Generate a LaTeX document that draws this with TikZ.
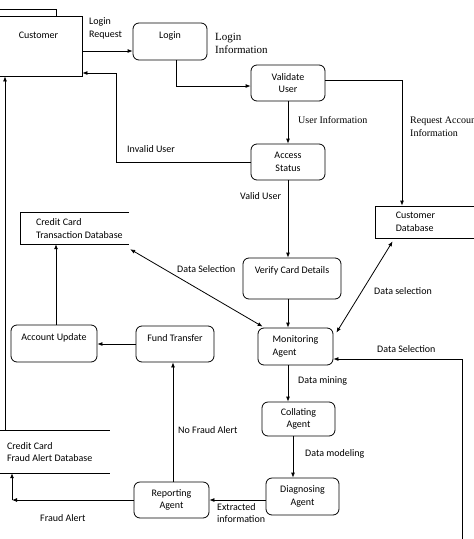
\documentclass[tikz,border=0pt]{standalone}
\usepackage{fontspec}
\setmainfont{Carlito}
\newfontfamily\tnr{Liberation Serif}
\usetikzlibrary{arrows.meta}
\begin{document}
\begin{tikzpicture}[x=1pt,y=-1pt,
  every node/.style={font=\fontsize{10}{12.5}\selectfont},
  proc/.style={draw, rounded corners=6pt, line width=0.8pt, align=center, inner sep=2pt},
  ent/.style={draw, line width=0.8pt},
  store/.style={inner sep=0pt},
  lab/.style={anchor=west, inner sep=0pt, align=left},
  serif/.style={font=\tnr\fontsize{10}{13}\selectfont},
  serifbig/.style={font=\tnr\fontsize{11}{13}\selectfont},
  arr/.style={-{Latex[length=5pt,width=4pt]}, line width=0.8pt},
  dbl/.style={{Latex[length=5pt,width=4pt]}-{Latex[length=5pt,width=4pt]}, line width=0.8pt},
  ln/.style={line width=0.8pt}
]
\useasboundingbox (0,0) rectangle (474,539);

% entities and processes
\node[ent, minimum width=87pt, minimum height=60pt, text height=7pt, text depth=22pt] (customer) at (38.5,46) {Customer};
\draw[ln] ([yshift=6pt]customer.north west) -- ([xshift=17.5pt,yshift=6pt]customer.north) -- ([xshift=17.5pt]customer.north);

\node[proc, minimum width=74pt, minimum height=37pt, text height=7pt, text depth=13pt] (login) at (170,41.5) {Login};
\node[proc, minimum width=74pt, minimum height=36pt] (validate) at (288,83) {Validate\\User};
\node[proc, minimum width=74pt, minimum height=36pt] (access) at (288,162) {Access\\Status};
\node[proc, minimum width=98pt, minimum height=41pt, text height=7pt, text depth=17pt] (verify) at (292,278.5) {Verify Card Details};
\node[proc, align=left, minimum width=75pt, minimum height=37pt] (monitor) at (295.5,346.5) {Monitoring\\Agent};
\node[proc, minimum width=73pt, minimum height=34pt] (collate) at (298.5,419) {Collating\\Agent};
\node[proc, minimum width=73pt, minimum height=37pt] (diagnose) at (302.5,496.5) {Diagnosing\\Agent};
\node[proc, minimum width=75pt, minimum height=36pt] (report) at (171.5,500) {Reporting\\Agent};
\node[proc, minimum width=78pt, minimum height=36pt, text height=7pt, text depth=13pt] (fund) at (175,344) {Fund Transfer};
\node[proc, minimum width=86pt, minimum height=37pt, text height=7pt, text depth=13pt] (acct) at (54,343.5) {Account Update};

% data stores
\node[store, minimum width=108pt, minimum height=31pt] (txdb) at (75,228.5) {};
\draw[ln] (txdb.north east) -- (txdb.north west) -- (txdb.south west) -- (txdb.south east);
\node[lab] (txdbtext) at ([xshift=15pt]txdb.west) {Credit Card\\Transaction Database};

\node[store, ent, minimum width=115pt, minimum height=32pt] (custdb) at (432.5,222) {};
\node[lab] (custdbtext) at ([xshift=21pt]custdb.west) {Customer\\Database};

\node[store, minimum width=130pt, minimum height=42pt] (frauddb) at (45,452) {};
\draw[ln] (frauddb.north west) -- (frauddb.north east);
\draw[ln] (frauddb.south west) -- (frauddb.south east);
\node[lab] (frauddbtext) at ([xshift=27pt]frauddb.west) {Credit Card\\Fraud Alert Database};

% connectors
\draw[arr] ([yshift=-9.5pt]login.west -| customer.east) -- ([yshift=-9.5pt]login.west);
\draw[arr] ([xshift=6pt]login.south) |- ([yshift=-3pt]validate.west);
\draw[arr] ([yshift=3pt]validate.east) -| ([xshift=-30.5pt]custdb.north);
\draw[arr] (validate.south) -- (access.north);
\coordinate (iu) at (116,73);
\draw[arr] (access.west) -| (iu) -- (iu -| customer.east);
\draw[arr] (access.south) -- (access.south |- verify.north);
\draw[arr] (access.south |- verify.south) -- (access.south |- monitor.north);
\draw[dbl] ([xshift=1pt,yshift=-5pt]txdb.south east) -- ([xshift=5pt,yshift=1pt]monitor.north west);
\draw[dbl] ([xshift=18pt,yshift=-3pt]custdb.south west) -- ([xshift=3pt,yshift=-5pt]monitor.north east);
\coordinate (dsin) at (462,545);
\draw[arr] (dsin) |- ([yshift=-12.5pt]monitor.east);
\draw[arr] (access.south |- monitor.south) -- (access.south |- collate.north);
\draw[arr] ([xshift=-5.5pt]collate.south) -- ([xshift=-5.5pt]collate.south |- diagnose.north);
\draw[arr] (diagnose.west |- report.east) -- (report.east);
\draw[arr] ([xshift=1.5pt]report.north) -- ([xshift=1.5pt]report.north |- fund.south);
\draw[arr] (fund.west) -- (fund.west -| acct.east);
\draw[arr] ([xshift=2pt]acct.north) -- ([xshift=2pt]acct.north |- txdb.south);
\coordinate (fac) at (12,500);
\draw[arr] (report.west) -- (report.west -| fac);
\draw[arr] (fac) -- (fac |- frauddb.south);
\coordinate (xf) at (5,0);
\draw[arr] (frauddb.north -| xf) -- (customer.south -| xf);

% labels
\node[lab] (lLoginReq) at (89,28.5) {Login\\Request};
\node[lab, serifbig] (lLoginInfo) at (215,43.5) {Login\\Information};
\node[lab, serif] (lUserInfo) at (298,120) {User Information};
\node[lab, serif] (lReqAcc) at (410,126.5) {Request Account\\Information};
\node[lab] (lInvalid) at (127,149) {Invalid User};
\node[lab] (lValid) at (240,196) {Valid User};
\node[lab] (lDS1) at (177,269) {Data Selection};
\node[lab] (lDS2) at (374,291) {Data selection};
\node[lab] (lDS3) at (377,349) {Data Selection};
\node[lab] (lMining) at (298,381) {Data mining};
\node[lab] (lModel) at (305,454) {Data modeling};
\node[lab] (lNoFraud) at (178,430) {No Fraud Alert};
\node[lab] (lExtract) at (217,513) {Extracted\\information};
\node[lab] (lFraud) at (40,518) {Fraud Alert};
\end{tikzpicture}
\end{document}
